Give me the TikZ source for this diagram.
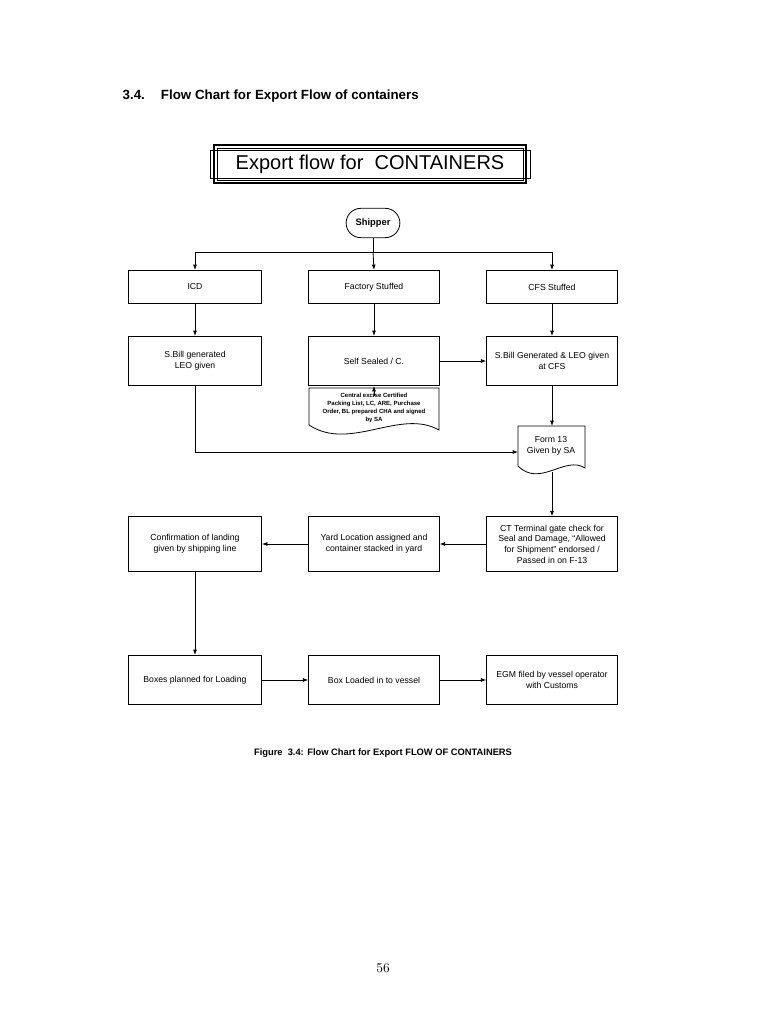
\documentclass[tikz,border=0pt]{standalone}
\usepackage{fontspec}
\setmainfont{Liberation Sans}
\usetikzlibrary{arrows.meta,shapes.misc}
\begin{document}
\begin{tikzpicture}[x=0.75pt,y=-0.75pt,
 box/.style={draw,line width=0.6pt,align=center,font=\fontsize{6.5}{8}\selectfont,inner sep=1pt},
 arr/.style={-{Latex[length=4pt,width=3pt]},line width=0.6pt},
 ln/.style={line width=0.6pt}]
\useasboundingbox (0,0) rectangle (768,1024);
\node[anchor=west,font=\bfseries\fontsize{10}{12}\selectfont] (h) at (118,96) {3.4.\hspace{1.2em}Flow Chart for Export Flow of containers};
% title frame
\draw[line width=1pt] (214,145) rectangle (526,183);
\draw[line width=0.6pt] (217,148) rectangle (523,180);
\draw[line width=0.6pt] (210,150) rectangle (530,178);
\node[font=\fontsize{15}{18}\selectfont] (t) at (370,164) {Export flow for\ \ CONTAINERS};
\node[draw,rounded rectangle,line width=0.6pt,minimum width=47pt,minimum height=22pt,font=\bfseries\fontsize{7}{8}\selectfont] (s) at (373,223) {Shipper};
\node[box,minimum width=100pt,minimum height=25pt] (icd) at (195,287) {ICD};
\node[box,minimum width=98pt,minimum height=25pt] (fac) at (374,287) {Factory Stuffed};
\node[box,minimum width=98pt,minimum height=25pt] (cfs) at (552,287) {CFS Stuffed};
\node[box,minimum width=100pt,minimum height=37pt] (sb1) at (195,361) {S.Bill generated\\LEO given};
\node[box,minimum width=98pt,minimum height=37pt] (ss) at (374,361) {Self Sealed / C.};
\node[box,minimum width=98pt,minimum height=37pt] (sb2) at (552,361) {S.Bill Generated \& LEO given\\at CFS};
% document shapes
\draw[ln] (309,388) -- (439,388) -- (439,430) .. controls (400,408) and (350,452) .. (309,425) -- cycle;
\node[align=center,font=\bfseries\fontsize{4.5}{6}\selectfont] (doc) at (374,408) {Central excise Certified\\Packing List, LC, ARE, Purchase\\Order, BL prepared CHA and signed\\by SA};
\draw[ln] (518,426) -- (585,426) -- (585,468) .. controls (565,455) and (540,488) .. (518,466) -- cycle;
\node[align=center,font=\fontsize{6.5}{8}\selectfont] (f13) at (551,446) {Form 13\\Given by SA};
\coordinate (f13t) at (552,426);
\coordinate (f13l) at (518,452);
\coordinate (f13b) at (552,472);
\node[box,minimum width=98pt,minimum height=41pt] (ct) at (552,544) {CT Terminal gate check for\\Seal and Damage, ``Allowed\\for Shipment'' endorsed /\\Passed in on F-13};
\node[box,minimum width=98pt,minimum height=41pt] (yd) at (374,544) {Yard Location assigned and\\container stacked in yard};
\node[box,minimum width=100pt,minimum height=41pt] (cf) at (195,544) {Confirmation of landing\\given by shipping line};
\node[box,minimum width=100pt,minimum height=37pt] (bp) at (195,680) {Boxes planned for Loading};
\node[box,minimum width=98pt,minimum height=37pt] (bl) at (374,680) {Box Loaded in to vessel};
\node[box,minimum width=98pt,minimum height=37pt] (egm) at (552,680) {EGM filed by vessel operator\\with Customs};
% connectors
\coordinate (j) at (373,252);
\draw[ln] (s.south) -- (j);
\draw[ln] (icd.north|-j) -- (cfs.north|-j);
\draw[arr] (icd.north|-j) -- (icd.north);
\draw[arr] (j) -- (fac.north);
\draw[arr] (cfs.north|-j) -- (cfs.north);
\draw[arr] (icd) -- (sb1);
\draw[arr] (fac) -- (ss);
\draw[arr] (cfs) -- (sb2);
\draw[arr] (ss) -- (sb2);
\draw[arr] (374,396) -- (ss.south);
\draw[arr] (sb1.south) |- (f13l);
\draw[arr] (sb2.south) -- (f13t);
\draw[arr] (f13b) -- (ct.north);
\draw[arr] (ct) -- (yd);
\draw[arr] (yd) -- (cf);
\draw[arr] (cf) -- (bp);
\draw[arr] (bp) -- (bl);
\draw[arr] (bl) -- (egm);
\node[font=\bfseries\fontsize{7}{8}\selectfont] (cap) at (383,753) {Figure\ \ 3.4: Flow Chart for Export FLOW OF CONTAINERS};
\node[font=\fontfamily{lmr}\fontsize{10}{12}\selectfont] (pg) at (383,968) {56};
\end{tikzpicture}
\end{document}
